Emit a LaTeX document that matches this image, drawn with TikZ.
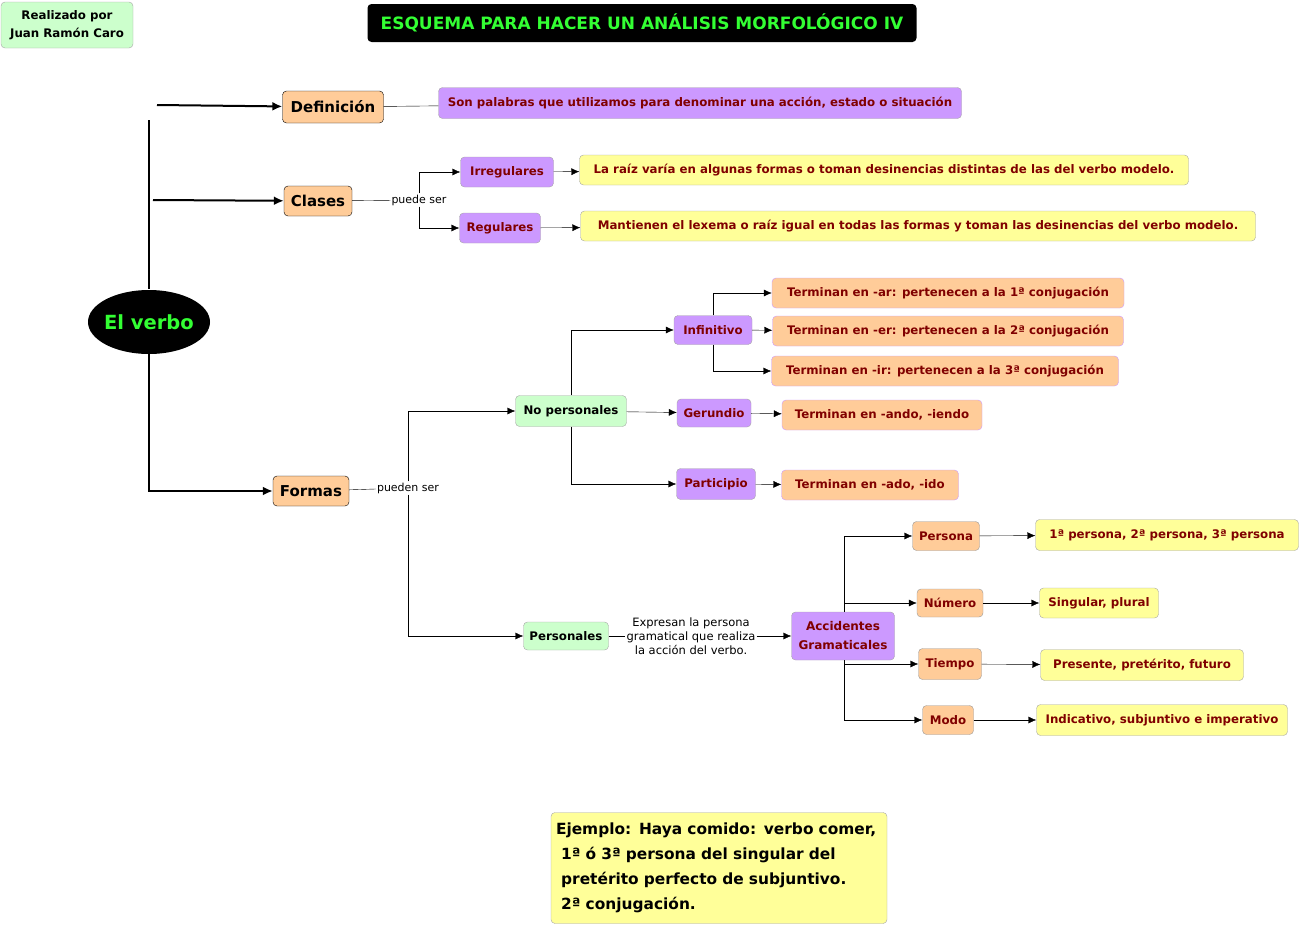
\documentclass[tikz,border=0pt]{standalone}
\usepackage{fontspec}
\setmainfont{DejaVu Sans}
\usetikzlibrary{arrows.meta, positioning, shapes.geometric}
\definecolor{naranja}{HTML}{FFCC99}
\definecolor{lila}{HTML}{CC99FF}
\definecolor{amarillo}{HTML}{FFFF99}
\definecolor{verdecl}{HTML}{CCFFCC}
\definecolor{granate}{HTML}{800000}
\definecolor{verdetit}{HTML}{33FF33}
\begin{document}
\begin{tikzpicture}[
            x=1pt, y=-1pt,
            box/.style={rounded corners=4pt, draw=black!35, font=\bfseries\fontsize{11.8}{13}\selectfont, inner sep=2pt, minimum height=29pt},
            orangenode/.style={box, fill=naranja, draw=black, font=\bfseries\fontsize{15}{17}\selectfont},
            orangesmall/.style={box, fill=naranja, draw=black!40, text=granate},
            purplenode/.style={box, fill=lila, text=granate},
            yellownode/.style={box, fill=amarillo, text=granate},
            resultnode/.style={box, fill=naranja, draw=lila, text=granate},
            greennode/.style={box, fill=verdecl, text=black},
            lbl/.style={fill=white, font=\fontsize{11}{13}\selectfont, inner sep=1pt, align=center},
            arr/.style={-{Latex[length=8pt,width=7pt]}},
            thickarr/.style={-{Latex[length=10pt,width=9pt]}, line width=2pt},
            ]
            \useasboundingbox (0,0) rectangle (1302,926);
            % titulos
            \node[greennode, minimum width=132pt, minimum height=46pt, align=center, font=\bfseries\fontsize{11.8}{18}\selectfont] (autor) at (67,25) {Realizado por\\Juan Ramón Caro};
            \node[rounded corners=4pt, fill=black, text=verdetit, minimum width=549pt, minimum height=38pt, font=\bfseries\fontsize{17}{19}\selectfont] (titulo) at (642,23) {ESQUEMA PARA HACER UN ANÁLISIS MORFOLÓGICO IV};
            % centro
            \node[ellipse, fill=black, text=verdetit, minimum width=122pt, minimum height=64pt, inner sep=-4pt, font=\bfseries\fontsize{19.5}{22}\selectfont] (verbo) at (149,322) {El verbo};
            \node[orangenode, minimum width=101pt, minimum height=32pt] (defi) at (333,107) {Definición};
            \node[orangenode, minimum width=68pt, minimum height=30pt] (clases) at (318,201) {Clases};
            \node[orangenode, minimum width=76pt, minimum height=30pt] (formas) at (311,491) {Formas};
            \coordinate (t1) at (157,105);
            \coordinate (t2) at (153,200);
            \coordinate (t3) at (149,120);
            \coordinate (t4) at (149,289);
            \coordinate (t5) at (149,491);
            \draw[thickarr] (t1) -- (defi);
            \draw[thickarr] (t2) -- (clases);
            \draw[line width=2pt] (t3) -- (t4);
            \draw[thickarr] (verbo.south) -- (t5) -- (formas);
            % definicion
            \node[purplenode, minimum width=523pt, minimum height=31pt] (defitx) at (700,103) {Son palabras que utilizamos para denominar una acción, estado o situación};
            \draw (defi) -- (defitx);
            % clases
            \node[lbl] (puede) at (419,200) {puede ser};
            \node[purplenode, minimum width=93pt, minimum height=30pt] (irreg) at (507,172) {Irregulares};
            \node[purplenode, minimum width=81pt, minimum height=30pt] (reg) at (500,228) {Regulares};
            \node[yellownode, minimum width=609pt, minimum height=30pt] (irregtx) at (884,170) {La raíz varía en algunas formas o toman desinencias distintas de las del verbo modelo.};
            \node[yellownode, minimum width=675pt, minimum height=30pt] (regtx) at (918,226) {Mantienen el lexema o raíz igual en todas las formas y toman las desinencias del verbo modelo.};
            \draw (clases) -- (puede);
            \draw[arr] (puede.north) |- (irreg);
            \draw[arr] (puede.south) |- (reg);
            \draw[arr] (irreg) -- (irregtx);
            \draw[arr] (reg) -- (regtx);
            % formas
            \node[lbl] (pueden) at (408,488) {pueden ser};
            \node[greennode, minimum width=111pt, minimum height=31pt] (nopers) at (571,411) {No personales};
            \node[greennode, minimum width=85pt, minimum height=28pt] (pers) at (566,636) {Personales};
            \draw (formas) -- (pueden);
            \draw[arr] (pueden.north) |- (nopers);
            \draw[arr] (pueden.south) |- (pers);
            % no personales
            \node[purplenode, minimum width=78pt, minimum height=29pt] (infi) at (713,330) {Infinitivo};
            \node[purplenode, minimum width=74pt, minimum height=28pt] (gerun) at (714,413) {Gerundio};
            \node[purplenode, minimum width=79pt, minimum height=31pt] (parti) at (716,484) {Participio};
            \draw[arr] (nopers.north) |- (infi);
            \draw[arr] (nopers) -- (gerun);
            \draw[arr] (nopers.south) |- (parti);
            \node[resultnode, minimum width=352pt, minimum height=30pt] (ar) at (948,293) {Terminan en -ar: pertenecen a la 1ª conjugación};
            \node[resultnode, minimum width=351pt, minimum height=30pt] (er) at (948,331) {Terminan en -er: pertenecen a la 2ª conjugación};
            \node[resultnode, minimum width=347pt, minimum height=30pt] (ir) at (945,371) {Terminan en -ir: pertenecen a la 3ª conjugación};
            \node[resultnode, minimum width=200pt, minimum height=30pt] (ando) at (882,415) {Terminan en -ando, -iendo};
            \node[resultnode, minimum width=177pt, minimum height=30pt] (ado) at (870,485) {Terminan en -ado, -ido};
            \draw[arr] (infi.north) |- (ar);
            \draw[arr] (infi) -- (er);
            \draw[arr] (infi.south) |- (ir);
            \draw[arr] (gerun) -- (ando);
            \draw[arr] (parti) -- (ado);
            % personales
            \node[lbl, font=\fontsize{11.5}{14}\selectfont] (expresan) at (691,636) {Expresan la persona\\gramatical que realiza\\la acción del verbo.};
            \node[purplenode, minimum width=103pt, minimum height=48pt, align=center, font=\bfseries\fontsize{12}{19}\selectfont] (accid) at (843,636) {Accidentes\\Gramaticales};
            \draw (pers) -- (expresan);
            \draw[arr] (expresan) -- (accid);
            \coordinate (acc) at (844,636);
            \node[orangesmall, minimum width=67pt, minimum height=29pt] (persona) at (946,536) {Persona};
            \node[orangesmall, minimum width=66pt, minimum height=28pt] (numero) at (950,603) {Número};
            \node[orangesmall, minimum width=63pt, minimum height=31pt] (tiempo) at (950,664) {Tiempo};
            \node[orangesmall, minimum width=51pt, minimum height=29pt] (modo) at (948,720) {Modo};
            \draw[arr] (accid.north -| acc) |- (persona);
            \draw[arr] (accid.north -| acc) |- (numero);
            \draw[arr] (accid.south -| acc) |- (tiempo);
            \draw[arr] (accid.south -| acc) |- (modo);
            \node[yellownode, minimum width=263pt, minimum height=31pt] (personatx) at (1167,535) {1ª persona, 2ª persona, 3ª persona};
            \node[yellownode, minimum width=119pt, minimum height=30pt] (numerotx) at (1099,603) {Singular, plural};
            \node[yellownode, minimum width=203pt, minimum height=31pt] (tiempotx) at (1142,665) {Presente, pretérito, futuro};
            \node[yellownode, minimum width=251pt, minimum height=31pt] (modotx) at (1162,720) {Indicativo, subjuntivo e imperativo};
            \draw[arr] (persona) -- (personatx);
            \draw[arr] (numero) -- (numerotx);
            \draw[arr] (tiempo) -- (tiempotx);
            \draw[arr] (modo) -- (modotx);
            % ejemplo
            \node[box, fill=amarillo, text=black, minimum width=336pt, minimum height=111pt, text width=326pt, align=left, font=\bfseries\fontsize{15.4}{25}\selectfont] (ejemplo) at (719,868) {Ejemplo: Haya comido: verbo comer,\\\ 1ª ó 3ª persona del singular del\\\ pretérito perfecto de subjuntivo.\\\ 2ª conjugación.};
        \end{tikzpicture}
\end{document}
